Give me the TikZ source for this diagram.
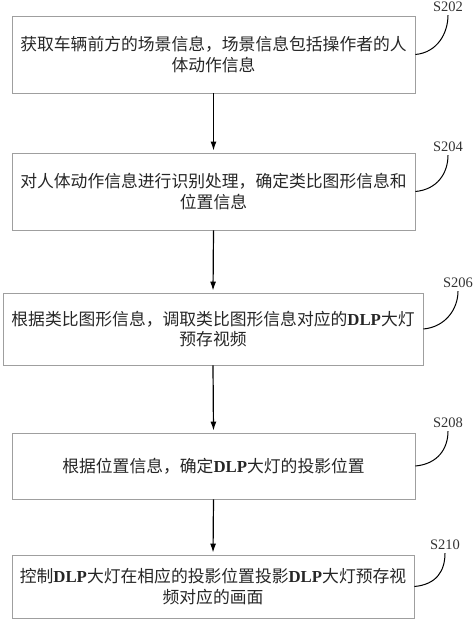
\documentclass[tikz,border=0pt]{standalone}
\usepackage{fontspec}
\setmainfont{Liberation Serif}
\newfontfamily\cjk{Noto Sans CJK SC}
\usepackage{tikz}
\usetikzlibrary{arrows.meta}

\begin{document}
\begin{tikzpicture}[x=1pt,y=-1pt,
  box/.style={draw=gray!75,line width=0.8pt,align=center,inner sep=0pt,
    text=black!85,font=\cjk\fontsize{16.8}{20.5}\selectfont},
  tag/.style={inner sep=1pt,text=black!80,font=\fontsize{14.5}{16}\selectfont},
  flow/.style={line width=1.2pt,-{Latex[length=9pt,width=6pt]},shorten >=2pt},
  link/.style={line width=1pt}]
\useasboundingbox (0,0) rectangle (474,620);

\node[box,minimum width=403pt,minimum height=77pt] (s1) at (213.5,54.5)
  {获取车辆前方的场景信息，场景信息包括操作者的人\\体动作信息};
\node[box,minimum width=403pt,minimum height=77pt] (s2) at (213.5,191.5)
  {对人体动作信息进行识别处理，确定类比图形信息和\\位置信息};
\node[box,minimum width=420pt,minimum height=72pt] (s3) at (213,329)
  {根据类比图形信息，调取类比图形信息对应的{\rmfamily\bfseries DLP}大灯\\预存视频};
\node[box,minimum width=403pt,minimum height=66pt] (s4) at (213.5,466)
  {根据位置信息，确定{\rmfamily\bfseries DLP}大灯的投影位置};
\node[box,minimum width=402pt,minimum height=63pt] (s5) at (213,586.5)
  {控制{\rmfamily\bfseries DLP}大灯在相应的投影位置投影{\rmfamily\bfseries DLP}大灯预存视\\频对应的画面};

% step numbers
\node[tag] (t1) at (448,7) {S202};
\node[tag] (t2) at (448,147) {S204};
\node[tag] (t3) at (458,283) {S206};
\node[tag] (t4) at (448,423) {S208};
\node[tag] (t5) at (445,545) {S210};

\draw[link] (s1.east) .. controls +(22,-2) and +(0,18) .. ([yshift=-2pt]t1.south);
\draw[link] (s2.east) .. controls +(22,-2) and +(0,18) .. ([yshift=-2pt]t2.south);
\draw[link] (s3.east) .. controls +(22,-2) and +(0,18) .. ([yshift=-2pt]t3.south);
\draw[link] (s4.east) .. controls +(22,-2) and +(0,18) .. ([yshift=-2pt]t4.south);
\draw[link] (s5.east) .. controls +(22,-2) and +(0,18) .. ([yshift=-2pt]t5.south);

\draw[flow] (s1.south) -- (s2.north);
\draw[flow] (s2.south) -- (s3.north);
\draw[flow] (s3.south) -- (s4.north);
\draw[flow] (s4.south) -- (s5.north);
\end{tikzpicture}
\end{document}
